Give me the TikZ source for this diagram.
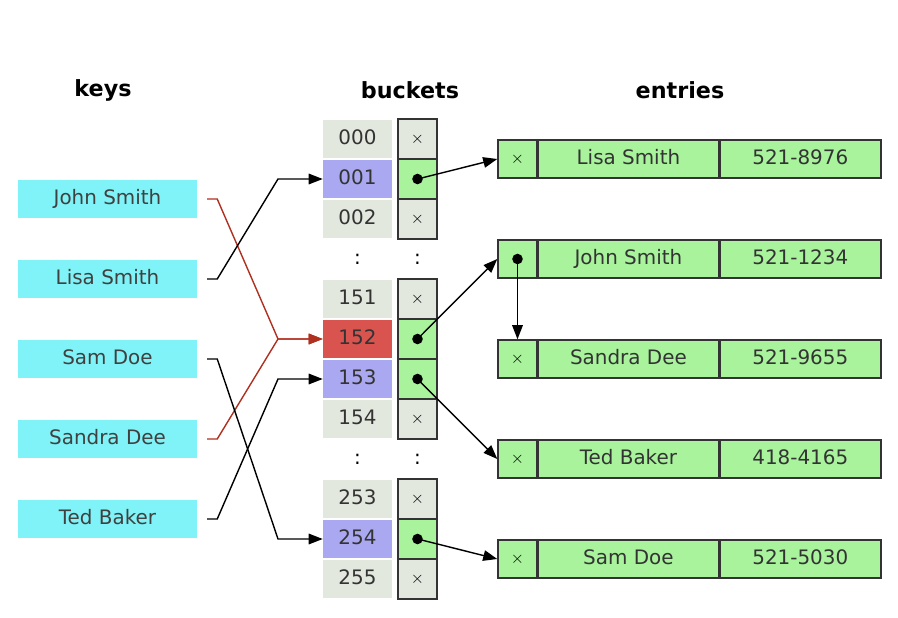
\documentclass[tikz,border=0pt]{standalone}
\usepackage{fontspec}
\setmainfont{DejaVu Sans}
\usetikzlibrary{arrows.meta}
\definecolor{keycol}{HTML}{7FF3F7}
\definecolor{numcol}{HTML}{E2E8DE}
\definecolor{hitcol}{HTML}{A9A8F0}
\definecolor{redcol}{HTML}{D9534F}
\definecolor{entcol}{HTML}{A8F39C}
\definecolor{linkred}{HTML}{B03020}
\tikzset{
  txt/.style={text height=13pt, text depth=3pt},
  key/.style={txt, fill=keycol, minimum width=5.37cm, minimum height=1.14cm, inner sep=0pt, text=black!75},
  num/.style={txt, fill=numcol, minimum width=2.07cm, minimum height=1.14cm, inner sep=0pt, text=black!80},
  ptr/.style={draw=black!80, line width=1.2pt, fill=#1, minimum width=1.17cm, minimum height=1.2cm, inner sep=0pt},
  cell/.style={txt, draw=black!80, line width=1.2pt, fill=entcol, minimum height=1.14cm, minimum width=#1, inner sep=0pt, text=black!80},
  head/.style={font=\fontsize{19}{22}\selectfont\bfseries},
  cross/.style={font=\fontsize{14}{16}\selectfont},
  link/.style={line width=1.2pt, -{Triangle[length=12pt,width=9pt]}},
  dot/.style={circle, fill=black, inner sep=0pt, minimum size=9pt}
}
\begin{document}
\begin{tikzpicture}[x=0.03cm, y=-0.03cm, font=\fontsize{17}{20}\selectfont]
  \useasboundingbox (0,0) rectangle (898,618);
  % headers
  \node [head] at (103,90) {keys};
  \node [head] at (410,90) {buckets};
  \node [head] at (680,90) {entries};
  % keys
  \foreach \n/\t/\y in {1/John Smith/199, 2/Lisa Smith/279, 3/Sam Doe/359, 4/Sandra Dee/439, 5/Ted Baker/519}
    \node [key] (k\n) at (107.5,\y) {\t};
  % bucket numbers and pointer cells
  \foreach \t/\y/\c/\p in {000/139/numcol/numcol, 001/179/hitcol/entcol, 002/219/numcol/numcol,
      151/299/numcol/numcol, 152/339/redcol/entcol, 153/379/hitcol/entcol, 154/419/numcol/numcol,
      253/499/numcol/numcol, 254/539/hitcol/entcol, 255/579/numcol/numcol} {
    \node [num, fill=\c] (b\t) at (357.5,\y) {\t};
    \node [ptr=\p] (p\t) at (417.5,\y) {};
  }
  \foreach \t in {000,002,151,154,253,255} \node [cross] at (p\t) {$\times$};
  \foreach \t in {001,152,153,254} \node [dot] (d\t) at (p\t) {};
  \foreach \y in {259,459} {
    \node at (357.5,\y) {:};
    \node at (417.5,\y) {:};
  }
  % entries
  \foreach \n/\t/\v/\y in {1/Lisa Smith/521-8976/159, 2/John Smith/521-1234/259,
      3/Sandra Dee/521-9655/359, 4/Ted Baker/418-4165/459, 5/Sam Doe/521-5030/559} {
    \node [cell=1.17cm] (e\n) at (517.5,\y) {};
    \node [cell=5.4cm, anchor=west] (n\n) at (e\n.east) {\t};
    \node [cell=4.83cm, anchor=west] (t\n) at (n\n.east) {\v};
  }
  \foreach \n in {1,3,4,5} \node [cross] at (e\n) {$\times$};
  \node [dot] (d2) at (e2) {};
  % key links
  \draw [link, draw=linkred, -{Triangle[length=12pt,width=9pt,fill=linkred]}] (k1.east) ++(10,0) -- ++(10,0) -- (278,339) -- (b152.west);
  \draw [link, draw=linkred, -{Triangle[length=12pt,width=9pt,fill=linkred]}] (k4.east) ++(10,0) -- ++(10,0) -- (278,339) -- (b152.west);
  \draw [link] (k2.east) ++(10,0) -- ++(10,0) -- (278,179) -- (b001.west);
  \draw [link] (k3.east) ++(10,0) -- ++(10,0) -- (278,539) -- (b254.west);
  \draw [link] (k5.east) ++(10,0) -- ++(10,0) -- (278,379) -- (b153.west);
  % pointers
  \draw [link] (d001.center) -- (e1.west);
  \draw [link] (d152.center) -- (e2.west);
  \draw [link] (d153.center) -- (e4.west);
  \draw [link] (d254.center) -- (e5.west);
  \draw [link] (d2.center) -- (e3.north);
\end{tikzpicture}
\end{document}
